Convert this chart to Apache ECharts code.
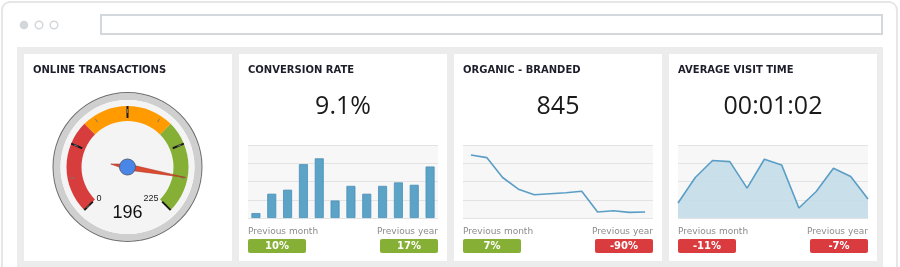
<!DOCTYPE html>
<html>
<head>
<meta charset="utf-8">
<script src="https://cdn.jsdelivr.net/npm/echarts@6/dist/echarts.min.js"></script>
<style>
  html, body { margin: 0; padding: 0; background: #fff; }
  #main { width: 900px; height: 267px; }
</style>
</head>
<body>
<div id="main"></div>
<script>
// ---- data ----
var months = ['Jan','Feb','Mar','Apr','May','Jun','Jul','Aug','Sep','Oct','Nov','Dec'];
var conversionBars = [0.27, 1.33, 1.55, 2.95, 3.27, 0.96, 1.76, 1.33, 1.76, 1.95, 1.82, 2.82];
var organicLine = [3.45, 3.31, 2.22, 1.58, 1.27, 1.33, 1.38, 1.47, 0.33, 0.40, 0.31, 0.33];
var visitArea = [0.82, 2.22, 3.15, 3.09, 1.64, 3.22, 2.91, 0.55, 1.45, 2.73, 2.27, 1.04];

var gaugeValue = 196;
var gaugeMax = 225;
var gaugeBands = [75, 150, 225];

var panelTitles = ['ONLINE TRANSACTIONS', 'CONVERSION RATE', 'ORGANIC - BRANDED', 'AVERAGE VISIT TIME'];
var bigNumbers = ['9.1%', '845', '00:01:02'];
var prevMonth = ['10%', '7%', '-11%'];
var prevYear = ['17%', '-90%', '-7%'];

var chart = echarts.init(document.getElementById('main'));

var PX = [24, 239, 454, 669];   // panel left edges
var PW = 208;
var GREEN = '#86b035', RED = '#d93b3f';

var g = [];
// browser frame
g.push({type: 'rect', z: -30, shape: {x: 2, y: 2, width: 895, height: 290, r: 8},
  style: {fill: '#fff', stroke: '#e6e6e6', lineWidth: 2}});
g.push({type: 'circle', z: -20, shape: {cx: 24, cy: 25, r: 4.3}, style: {fill: '#d3d7da'}});
g.push({type: 'circle', z: -20, shape: {cx: 39, cy: 25, r: 3.8}, style: {fill: '#fff', stroke: '#d3d7da', lineWidth: 1.5}});
g.push({type: 'circle', z: -20, shape: {cx: 54, cy: 25, r: 3.8}, style: {fill: '#fff', stroke: '#d3d7da', lineWidth: 1.5}});
g.push({type: 'rect', z: -20, shape: {x: 101, y: 15, width: 781, height: 19},
  style: {fill: '#fff', stroke: '#d3d8dc', lineWidth: 2}});
g.push({type: 'rect', z: -20, shape: {x: 17, y: 47, width: 866, height: 240}, style: {fill: '#ececec'}});

PX.forEach(function (x, i) {
  g.push({type: 'rect', z: -10, shape: {x: x, y: 54, width: PW, height: 207}, style: {fill: '#fff'}});
  g.push({type: 'text', z: 50, style: {x: x + 9, y: 70, text: panelTitles[i], fill: '#1d1d2b',
    font: 'bold 10px "DejaVu Sans"', textVerticalAlign: 'middle'}});
  if (i === 0) return;
  var k = i - 1;
  g.push({type: 'text', z: 50, style: {x: x + PW / 2, y: 107, text: bigNumbers[k], fill: '#1a1a1a',
    font: '25px "Open Sans"', textAlign: 'center', textVerticalAlign: 'middle'}});
  g.push({type: 'text', z: 50, style: {x: x + 9, y: 232, text: 'Previous month', fill: '#8c8c8c',
    font: '9px "DejaVu Sans"', textVerticalAlign: 'middle'}});
  g.push({type: 'text', z: 50, style: {x: x + PW - 9, y: 232, text: 'Previous year', fill: '#8c8c8c',
    font: '9px "DejaVu Sans"', textAlign: 'right', textVerticalAlign: 'middle'}});
  [[prevMonth[k], x + 9], [prevYear[k], x + PW - 67]].forEach(function (b) {
    var col = b[0].charAt(0) === '-' ? RED : GREEN;
    g.push({type: 'rect', z: 40, shape: {x: b[1], y: 239, width: 58, height: 14, r: 2}, style: {fill: col}});
    g.push({type: 'text', z: 50, style: {x: b[1] + 29, y: 246.5, text: b[0], fill: '#fff',
      font: 'bold 10px "DejaVu Sans"', textAlign: 'center', textVerticalAlign: 'middle'}});
  });
});

function makeGrid(i) {
  return {left: PX[i] + 9, top: 145, width: 190, height: 73, show: true,
    backgroundColor: '#f7f7f7', borderWidth: 0};
}
function makeX(i, gap) {
  return {type: 'category', gridIndex: i, data: months, boundaryGap: gap,
    axisLine: {show: false}, axisTick: {show: false}, axisLabel: {show: false}};
}
function makeY(i) {
  return {type: 'value', gridIndex: i, min: 0, max: 4, interval: 1,
    axisLabel: {show: false}, axisLine: {show: false}, axisTick: {show: false},
    splitLine: {lineStyle: {color: '#e3e3e3', width: 1}}};
}

var center = [127.5, 167];

var option = {
  animation: false,
  graphic: g,
  grid: [makeGrid(1), makeGrid(2), makeGrid(3)],
  xAxis: [makeX(0, true), makeX(1, true), makeX(2, false)],
  yAxis: [makeY(0), makeY(1), makeY(2)],
  series: [
    // gauge rim / face
    {type: 'gauge', center: center, radius: 75, startAngle: 90, endAngle: -270, silent: true, z: 1,
      axisLine: {lineStyle: {width: 1.5, color: [[1, '#6f6f6f']]}},
      splitLine: {show: false}, axisTick: {show: false}, axisLabel: {show: false},
      pointer: {show: false}, detail: {show: false}, title: {show: false}, data: []},
    {type: 'gauge', center: center, radius: 74, startAngle: 90, endAngle: -270, silent: true, z: 1,
      axisLine: {lineStyle: {width: 7, color: [[1, '#cfcfcf']]}},
      splitLine: {show: false}, axisTick: {show: false}, axisLabel: {show: false},
      pointer: {show: false}, detail: {show: false}, title: {show: false}, data: []},
    {type: 'gauge', center: center, radius: 67, startAngle: 90, endAngle: -270, silent: true, z: 1,
      axisLine: {lineStyle: {width: 67, color: [[1, '#f4f4f4']]}},
      splitLine: {show: false}, axisTick: {show: false}, axisLabel: {show: false},
      pointer: {show: false}, detail: {show: false}, title: {show: false}, data: []},
    // main gauge
    {type: 'gauge', center: center, radius: 61, startAngle: 225, endAngle: -45, z: 3,
      min: 0, max: gaugeMax, splitNumber: 4,
      axisLine: {lineStyle: {width: 15, color: [
        [gaugeBands[0] / gaugeMax, '#d83d3d'],
        [gaugeBands[1] / gaugeMax, '#ff9a00'],
        [1, GREEN]]}},
      splitLine: {distance: -15, length: 12, lineStyle: {color: '#1a1a1a', width: 2}},
      axisTick: {splitNumber: 2, distance: -12, length: 4, lineStyle: {color: '#777', width: 1}},
      axisLabel: {distance: 20, color: '#222', fontSize: 9, fontFamily: 'Liberation Sans',
        formatter: function (v) { return (v === 0 || v === gaugeMax) ? String(v) : ''; }},
      pointer: {icon: 'path://M3 0 L6 59 L3 76 L0 59 Z', length: 76, width: 6, offsetCenter: [0, 17],
        keepAspect: false, itemStyle: {color: '#dc4a30', borderColor: '#a8321f', borderWidth: 0.5}},
      anchor: {show: true, showAbove: true, size: 16,
        itemStyle: {color: '#4a86e8', borderColor: '#56647a', borderWidth: 1}},
      title: {show: false},
      detail: {offsetCenter: [0, 46], fontSize: 18, color: '#111', fontFamily: 'Liberation Sans',
        fontWeight: 'normal', formatter: '{value}'},
      data: [{value: gaugeValue}]},
    // conversion bars
    {type: 'bar', xAxisIndex: 0, yAxisIndex: 0, data: conversionBars, barWidth: 9,
      itemStyle: {color: '#5ca3c8', borderColor: '#4a8fb6', borderWidth: 0.8}},
    // organic line
    {type: 'line', xAxisIndex: 1, yAxisIndex: 1, data: organicLine, symbol: 'none',
      lineStyle: {color: '#5a9ec6', width: 1.6}},
    // visit time area
    {type: 'line', xAxisIndex: 2, yAxisIndex: 2, data: visitArea, symbol: 'none',
      lineStyle: {color: '#5a9ec6', width: 1.6},
      areaStyle: {color: '#c3dbe7', opacity: 0.9}}
  ]
};

chart.setOption(option);
</script>
</body>
</html>
